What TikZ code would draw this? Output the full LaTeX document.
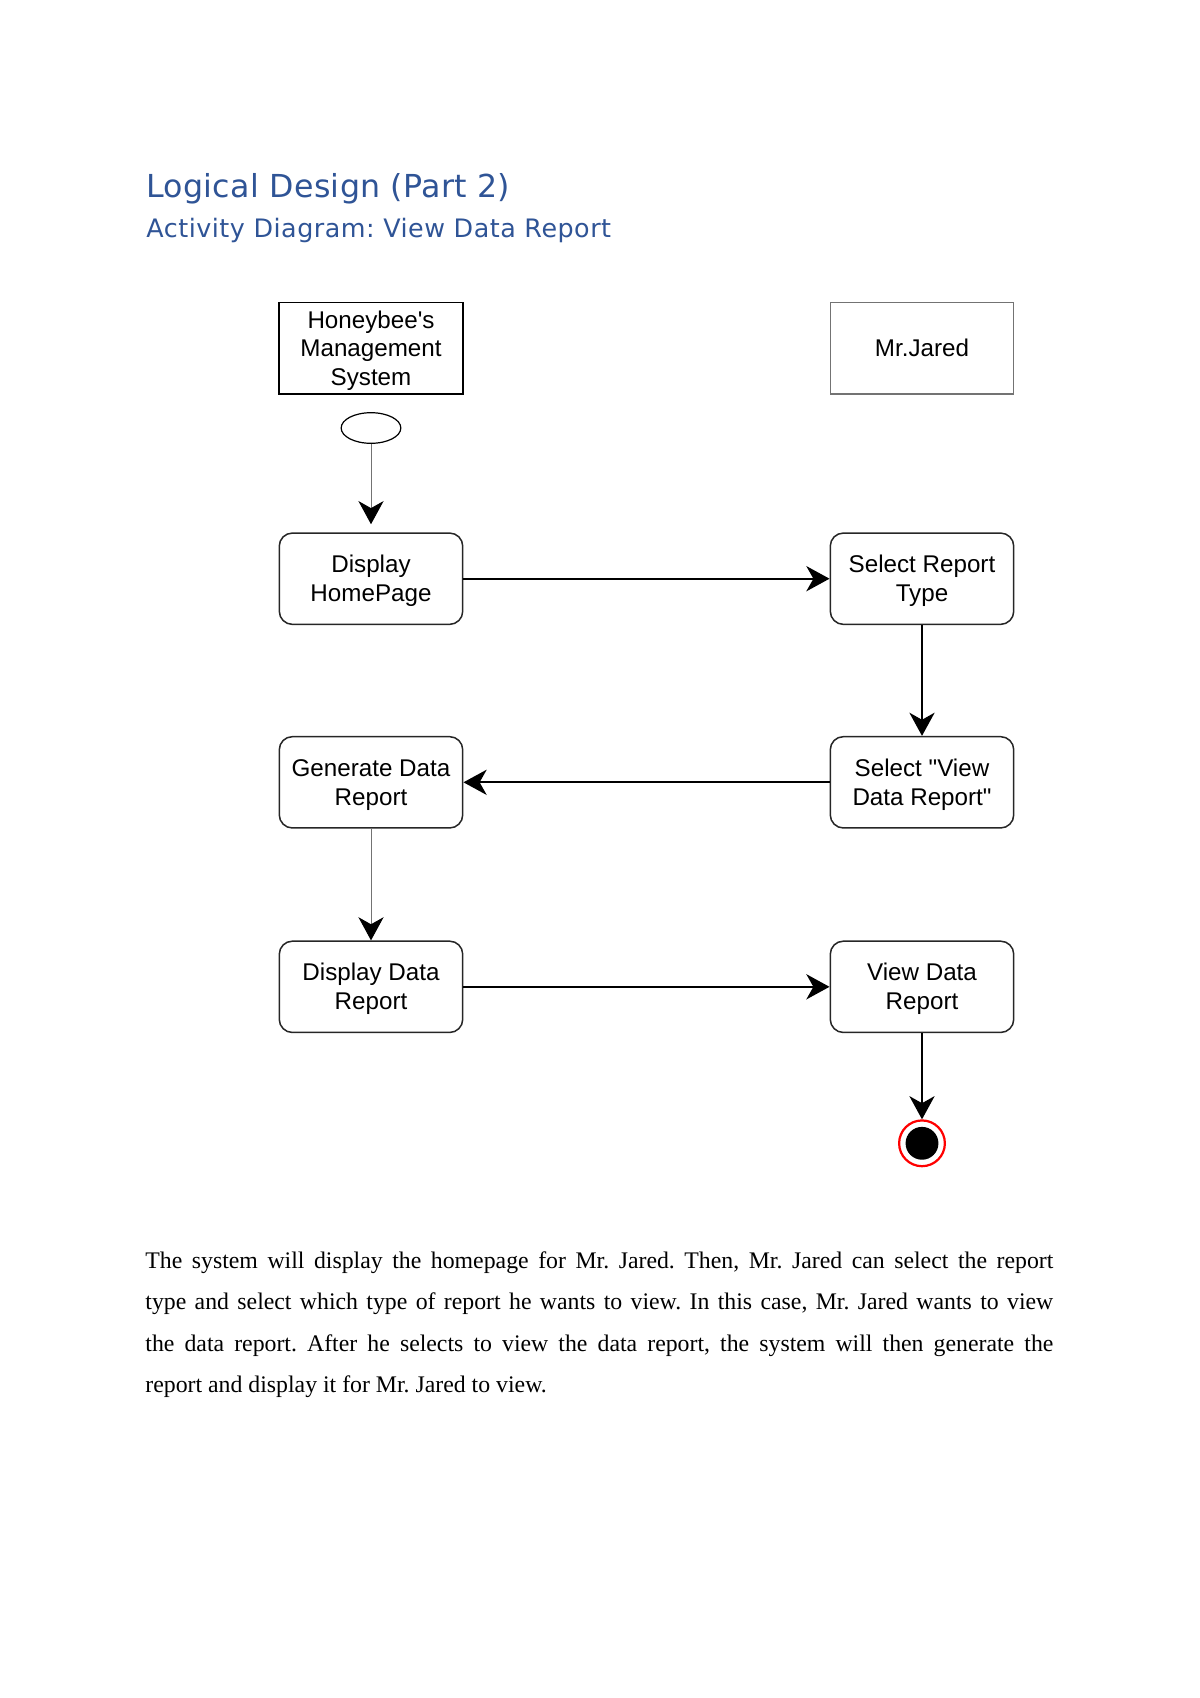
\documentclass[tikz,border=0pt]{standalone}
\usepackage{fontspec}
\setmainfont{Liberation Serif}
\newfontfamily\diagfont{Liberation Sans}
\newfontfamily\headfont{DejaVu Sans}
\usetikzlibrary{arrows.meta,shapes.geometric}
\definecolor{headblue}{RGB}{47,84,150}
\newcommand\tstrut{\rule{0pt}{10.8pt}}
\frenchspacing
\begin{document}
\begin{tikzpicture}[x=0.49606pt,y=-0.49606pt,
  actor/.style={draw=black, line width=0.8pt, rectangle, minimum width=91pt, minimum height=45.3pt, inner sep=0pt, align=center, font=\diagfont\fontsize{12}{14.2}\selectfont},
  activity/.style={actor, rounded corners=6.5pt, draw=black!85, line width=0.75pt},
  flow/.style={line width=1pt, -{Stealth[length=11.5pt,width=12.5pt,inset=3.5pt,color=black]}},
  thinflow/.style={flow, line width=0.5pt, draw=black!55},
  bodyline/.style={anchor=base west, inner sep=0pt, font=\fontsize{11.8}{20.6}\selectfont},
  heading/.style={anchor=base west, inner sep=0pt, text=headblue}
]
\path[use as bounding box] (0,0) rectangle (1200,1698);

% headings
\node[heading, font=\headfont\addfontfeature{LetterSpace=1}\fontsize{15.7}{18}\selectfont] (title) at (146,197.7) {Logical Design (Part 2)};
\node[heading, font=\headfont\addfontfeature{LetterSpace=2}\fontsize{12.6}{15}\selectfont] (subtitle) at (146,237.3) {Activity Diagram: View Data Report};

% swimlane headers
\node[actor] (sys) at (371,348.3) {\tstrut Honeybee's\\Management\\System};
\node[actor, draw=black!55, line width=0.6pt] (jared) at (922,348.3) {Mr.Jared};

% start node
\node[ellipse, draw=black, line width=0.6pt, minimum width=29.6pt, minimum height=15.2pt, inner sep=0pt] (start) at (371,428) {};

% activities
\node[activity] (disp) at (371,578.7) {\tstrut Display\\HomePage};
\node[activity] (selrep) at (922,578.7) {\tstrut Select Report\\Type};
\node[activity] (gen) at (371,782.3) {\tstrut Generate Data\\Report};
\node[activity] (selview) at (922,782.3) {\tstrut Select "View\\Data Report"};
\node[activity] (dispdata) at (371,986.8) {\tstrut Display Data\\Report};
\node[activity] (view) at (922,986.8) {\tstrut View Data\\Report};

% final node
\node[circle, fill=black, minimum size=16.3pt, inner sep=0pt] (finaldot) at (922,1143.3) {};
\node[circle, draw=red, line width=1.1pt, minimum size=22.7pt, inner sep=0pt] (final) at (922,1143.3) {};

% connectors
\draw[thinflow, shorten >=4pt] (start) -- (disp);
\draw[flow] (disp) -- (selrep);
\draw[flow] (selrep) -- (selview);
\draw[flow] (selview) -- (gen);
\draw[thinflow] (gen) -- (dispdata);
\draw[flow] (dispdata) -- (view);
\draw[flow] (view) -- (final);

% body text
\node[bodyline] (b1) at (145,1268.3) {\makebox[450.4pt][s]{The system will display the homepage for Mr. Jared. Then, Mr. Jared can select the report}};
\node[bodyline] (b2) at (145,1309.8) {\makebox[450.4pt][s]{type and select which type of report he wants to view. In this case, Mr. Jared wants to view}};
\node[bodyline] (b3) at (145,1351.3) {\makebox[450.4pt][s]{the data report. After he selects to view the data report, the system will then generate the}};
\node[bodyline] (b4) at (145,1392.8) {report and display it for Mr. Jared to view.};
\end{tikzpicture}
\end{document}
